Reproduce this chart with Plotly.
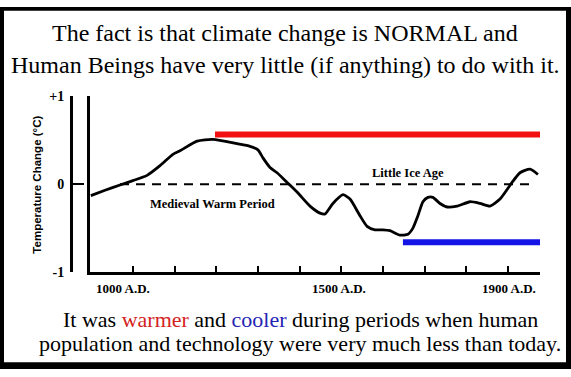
import plotly.graph_objects as go

W, H = 571, 377

# ---- data ----
years = [899, 933, 969, 1000, 1034, 1065, 1096, 1113, 1154, 1192, 1250, 1281, 1300,
         1312, 1329, 1346, 1370, 1394, 1425, 1449, 1461, 1480, 1504, 1521, 1545,
         1562, 1581, 1600, 1617, 1641, 1660, 1672, 1684, 1696, 1708, 1720, 1737,
         1754, 1778, 1809, 1833, 1857, 1881, 1910, 1929, 1953, 1972]
temps = [-0.13, -0.07, -0.01, 0.04, 0.10, 0.21, 0.34, 0.38, 0.49, 0.51, 0.46, 0.43, 0.39,
         0.30, 0.19, 0.13, 0.02, -0.09, -0.25, -0.33, -0.34, -0.22, -0.12, -0.17, -0.36,
         -0.48, -0.52, -0.52, -0.53, -0.58, -0.57, -0.50, -0.36, -0.20, -0.15, -0.15, -0.22,
         -0.26, -0.25, -0.20, -0.22, -0.25, -0.17, 0.02, 0.13, 0.17, 0.11]

baseline_years = [969, 1953]
baseline_vals = [0, 0]

warm_years = [1197, 1977]
warm_vals = [0.566, 0.566]
cool_years = [1648, 1977]
cool_vals = [-0.661, -0.661]

x_tick_vals = [1000, 1100, 1200, 1300, 1400, 1500, 1600, 1700, 1800, 1900]
x_label_years = [976, 1494, 1902]
x_label_text = ["1000 A.D.", "1500 A.D.", "1900 A.D."]
y_tick_vals = [-1, 0, 1]
y_tick_text = ["<b>-1</b>", "<b>0</b>", "<b>+1</b>"]

title_lines = ["The fact is that climate change is NORMAL and",
               "Human Beings have very little (if anything) to do with it."]
bottom_lines = ['It was <span style="color:#d42222">warmer</span> and '
                '<span style="color:#2424b4">cooler</span> during periods when human',
                "population and technology were very much less than today."]

SERIF = "Liberation Serif, Times New Roman, Times, serif"
SANS = "Liberation Sans, Arial, sans-serif"

fig = go.Figure()

fig.add_trace(go.Scatter(x=baseline_years, y=baseline_vals, mode="lines",
                         line=dict(color="black", width=2, dash="9px,7px"),
                         hoverinfo="skip", showlegend=False))
fig.add_trace(go.Scatter(x=years, y=temps, mode="lines",
                         line=dict(color="black", width=2.8, shape="spline", smoothing=0.6),
                         hoverinfo="skip", showlegend=False))
fig.add_trace(go.Scatter(x=warm_years, y=warm_vals, mode="lines",
                         line=dict(color="#f21010", width=6),
                         hoverinfo="skip", showlegend=False, cliponaxis=False))
fig.add_trace(go.Scatter(x=cool_years, y=cool_vals, mode="lines",
                         line=dict(color="#1414e6", width=6),
                         hoverinfo="skip", showlegend=False, cliponaxis=False))
# invisible trace to carry the bracket axis
fig.add_trace(go.Scatter(x=[1000], y=[0], yaxis="y2", mode="markers",
                         marker=dict(opacity=0), hoverinfo="skip", showlegend=False))

def px_x(p):
    return p / W

def px_y(p):
    return 1 - p / H

fig.update_layout(
    width=W, height=H,
    margin=dict(l=0, r=0, t=0, b=0),
    paper_bgcolor="white", plot_bgcolor="white",
    showlegend=False,
    xaxis=dict(domain=[px_x(90), px_x(540)], range=[897, 1977],
               showline=True, linecolor="black", linewidth=2.7,
               ticks="inside", ticklen=6, tickwidth=2, tickcolor="black",
               tickvals=x_tick_vals, ticktext=[""] * len(x_tick_vals),
               showgrid=False, zeroline=False, fixedrange=True),
    yaxis=dict(domain=[px_y(276), px_y(93)], range=[-1, 1],
               showline=True, linecolor="black", linewidth=2.7,
               ticks="", showticklabels=False,
               showgrid=False, zeroline=False, fixedrange=True),
    yaxis2=dict(overlaying="y", anchor="free", position=px_x(71), side="left",
                range=[-1, 1], showline=True, linecolor="black", linewidth=2.7,
                ticks="inside", ticklen=11, tickwidth=2.5, tickcolor="black",
                tickvals=y_tick_vals, ticktext=y_tick_text,
                ticklabelstandoff=3,
                tickfont=dict(family=SERIF, size=14, color="black"),
                showgrid=False, zeroline=False, fixedrange=True),
)

annotations = []
for yr, txt in zip(x_label_years, x_label_text):
    annotations.append(dict(x=yr, y=px_y(293), xref="x", yref="paper", text="<b>%s</b>" % txt,
                            showarrow=False, xanchor="center", yanchor="middle",
                            font=dict(family=SERIF, size=13, color="black")))
annotations.append(dict(x=px_x(37), y=px_y(185), xref="paper", yref="paper",
                        text="<b>Temperature Change (°C)</b>", textangle=-90, showarrow=False,
                        xanchor="center", yanchor="middle",
                        font=dict(family=SANS, size=11.5, color="black")))
annotations.append(dict(x=1192, y=-0.224, xref="x", yref="y", text="<b>Medieval Warm Period</b>",
                        showarrow=False, xanchor="center", yanchor="middle",
                        font=dict(family=SERIF, size=12.5, color="black")))
annotations.append(dict(x=1660, y=0.126, xref="x", yref="y", text="<b>Little Ice Age</b>",
                        showarrow=False, xanchor="center", yanchor="middle",
                        font=dict(family=SERIF, size=12.5, color="black")))
for cy, txt in zip([27, 60], title_lines):
    annotations.append(dict(x=px_x(285), y=px_y(cy), xref="paper", yref="paper", text=txt,
                            showarrow=False, xanchor="center", yanchor="middle",
                            font=dict(family=SERIF, size=24, color="black")))
for cy, txt in zip([325.5, 350], bottom_lines):
    annotations.append(dict(x=px_x(300), y=px_y(cy), xref="paper", yref="paper", text=txt,
                            showarrow=False, xanchor="center", yanchor="middle",
                            font=dict(family=SERIF, size=22, color="black")))
fig.update_layout(annotations=annotations)

# black frame around the picture
frame = [(0, 0, W, 4), (0, 370, W, H), (0, 0, 4, H), (566, 0, W, H)]
shapes = []
for x0, y0, x1, y1 in frame:
    shapes.append(dict(type="rect", xref="paper", yref="paper",
                       x0=px_x(x0), x1=px_x(x1), y0=px_y(y1), y1=px_y(y0),
                       fillcolor="black", line=dict(width=0), layer="above"))
fig.update_layout(shapes=shapes)

fig.write_html("out.html",
               config={"displayModeBar": False, "staticPlot": True},
               post_script="document.body.style.margin='0';"
                           "document.body.style.overflow='hidden';")
